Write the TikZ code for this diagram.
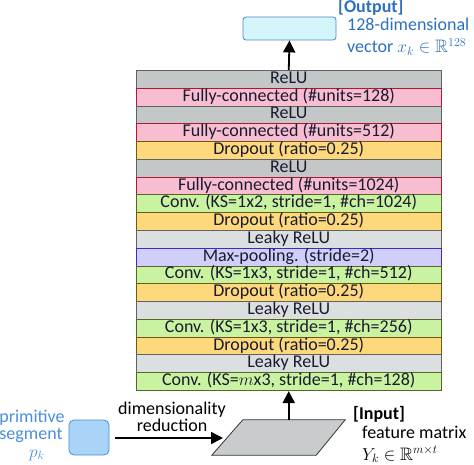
\documentclass[tikz,border=0pt]{standalone}
\usepackage{amssymb}
\usepackage{fontspec}
\setmainfont{Carlito}
\usetikzlibrary{arrows.meta}
\definecolor{relufill}{HTML}{C3C7C7}
\definecolor{leakyfill}{HTML}{DCDFE0}
\definecolor{grayline}{HTML}{5E6262}
\definecolor{fcfill}{HTML}{F9BDD1}
\definecolor{fcline}{HTML}{B01830}
\definecolor{dropfill}{HTML}{FDD97B}
\definecolor{dropline}{HTML}{6B5A10}
\definecolor{convfill}{HTML}{C9F3A0}
\definecolor{convline}{HTML}{56662A}
\definecolor{poolfill}{HTML}{D2CEFA}
\definecolor{poolline}{HTML}{3A2AD0}
\definecolor{outfill}{HTML}{D4F6FA}
\definecolor{outline}{HTML}{4A86C8}
\definecolor{segfill}{HTML}{A9D3F7}
\definecolor{segline}{HTML}{4A8AD8}
\definecolor{parafill}{HTML}{C8CCCC}
\definecolor{bluetext}{HTML}{2E6FBE}
\definecolor{lightbluetext}{HTML}{4A8EE0}
\definecolor{rowtext}{HTML}{1A1A30}
\begin{document}
\begin{tikzpicture}[x=1pt,y=-1pt,
  font=\fontsize{18}{17}\selectfont,
  layer/.style={draw, line width=1pt, minimum width=304.5pt, minimum height=17.78pt,
    inner sep=0pt, anchor=north west, text=rowtext, text height=11pt, text depth=3pt},
  lrelu/.style={layer, fill=relufill, draw=grayline},
  lleaky/.style={layer, fill=leakyfill, draw=grayline},
  lfc/.style={layer, fill=fcfill, draw=fcline},
  ldrop/.style={layer, fill=dropfill, draw=dropline},
  lconv/.style={layer, fill=convfill, draw=convline},
  lpool/.style={layer, fill=poolfill, draw=poolline},
  arr/.style={-{Triangle[length=12pt,width=12pt]}, line width=1.8pt},
  lbl/.style={inner sep=0pt, align=left, text height=11pt, text depth=3pt}]
\useasboundingbox (0,0) rectangle (474,465);

\foreach \st/\txt [count=\i] in {
  lrelu/ReLU,
  lfc/{Fully-connected (\#units=128)},
  lrelu/ReLU,
  lfc/{Fully-connected (\#units=512)},
  ldrop/{Dropout (ratio=0.25)},
  lrelu/ReLU,
  lfc/{Fully-connected (\#units=1024)},
  lconv/{Conv. (KS=1x2, stride=1, \#ch=1024)},
  ldrop/{Dropout (ratio=0.25)},
  lleaky/{Leaky ReLU},
  lpool/{Max-pooling. (stride=2)},
  lconv/{Conv. (KS=1x3, stride=1, \#ch=512)},
  ldrop/{Dropout (ratio=0.25)},
  lleaky/{Leaky ReLU},
  lconv/{Conv. (KS=1x3, stride=1, \#ch=256)},
  ldrop/{Dropout (ratio=0.25)},
  lleaky/{Leaky ReLU},
  lconv/{Conv. (KS=$m$x3, stride=1, \#ch=128)}}
{
  \node[\st] (r\i) at (136, {70+(\i-1)*17.78}) {\txt};
}

% output box
\node[draw=outline, fill=outfill, rounded corners=3pt, line width=0.8pt,
  minimum width=93pt, minimum height=23pt, inner sep=0pt] (out) at (289.5,28.5) {};
\draw[arr] (r1.north) -- (out.south);

\node[lbl, anchor=west, text=bluetext, font=\fontsize{18}{17}\selectfont\bfseries] (outlbl) at (338,9) {[Output]};
\node[lbl, anchor=west, text=bluetext] (outtxt1) at (347,26.5) {128-dimensional};
\node[lbl, anchor=west, text=bluetext] (outtxt2) at (347,49) {vector $x_k \in \mathbb{R}^{128}$};

% input parallelogram
\node[inner sep=0pt, minimum width=133pt, minimum height=35pt] (para) at (278.5,437.5) {};
\draw[draw=black!80, fill=parafill, line width=0.8pt]
  (para.south west) -- ([xshift=31pt]para.north west) -- (para.north east)
  -- ([xshift=-29pt]para.south east) -- cycle;
\draw[arr] (para.north -| r18.south) -- (r18.south);

\node[lbl, anchor=west, font=\fontsize{18}{17}\selectfont\bfseries] (inlbl) at (353,415.5) {[Input]};
\node[lbl, anchor=west] (intxt1) at (362,434) {feature matrix};
\node[lbl, anchor=west] (intxt2) at (362,456) {$Y_k \in \mathbb{R}^{m\times t}$};

% primitive segment
\node[draw=segline, fill=segfill, rounded corners=5pt, line width=0.8pt,
  minimum width=40pt, minimum height=35pt, inner sep=0pt] (seg) at (89,437.5) {};
\node[lbl, anchor=center, align=center, text=lightbluetext] (segtxt1) at (32,418) {primitive};
\node[lbl, anchor=center, align=center, text=lightbluetext] (segtxt2) at (31,435) {segment};
\node[lbl, anchor=center, align=center, text=lightbluetext] (segtxt3) at (37,453) {$p_k$};

\coordinate (paraL) at (223,438);
\draw[arr] ([xshift=6pt]seg.east |- paraL) -- (paraL);
\node[lbl, anchor=center, align=center] (dimred1) at (172,410) {dimensionality};
\node[lbl, anchor=center, align=center] (dimred2) at (172,427.5) {reduction};
\end{tikzpicture}
\end{document}
